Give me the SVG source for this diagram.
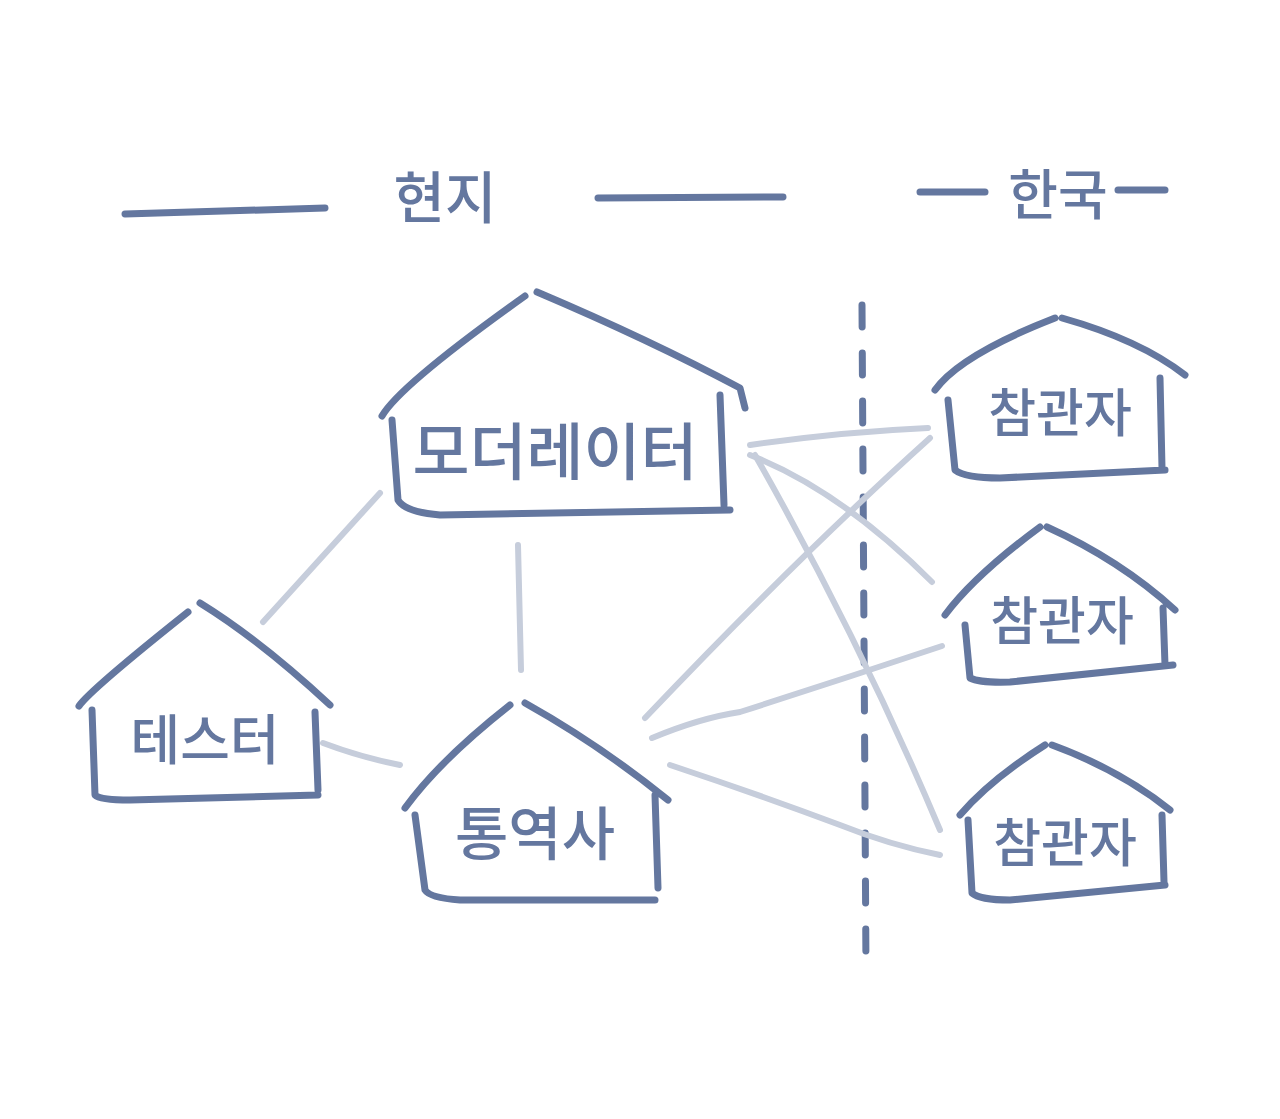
<svg xmlns="http://www.w3.org/2000/svg" width="1280" height="1119" viewBox="0 0 1280 1119">
<style>
.h{fill:none;stroke:#64779f;stroke-width:7;stroke-linecap:round;stroke-linejoin:round}
.c{fill:none;stroke:#c6cddb;stroke-width:6;stroke-linecap:round}
.t{fill:#64779f;font-family:"Noto Sans CJK KR",sans-serif;font-weight:500;text-anchor:middle}
</style>
<rect width="1280" height="1119" fill="#fff"/>
<g id="header">
<path class="h" d="M125 214 L325 208 M598 198 L783 197 M920 192 L985 192 M1118 190 L1165 190"/>
<text class="t" x="445" y="218" font-size="56">현지</text>
<text class="t" x="1058" y="215" font-size="54">한국</text>
</g>
<path class="h" d="M862 305 L866 970" stroke-dasharray="22 26" stroke-width="6"/>
<g id="connectors">
<path class="c" d="M380 493 L263 622"/>
<path class="c" d="M518 545 L521 670"/>
<path class="c" d="M323 743 Q360 757 400 765"/>
<path class="c" d="M645 718 Q800 555 930 438"/>
<path class="c" d="M652 738 Q700 718 740 712 Q840 680 942 646"/>
<path class="c" d="M670 765 Q760 795 840 825 Q890 845 940 855"/>
<path class="c" d="M750 445 Q840 432 928 428"/>
<path class="c" d="M750 455 Q840 490 932 582"/>
<path class="c" d="M755 455 Q860 640 940 830"/>
</g>
<g id="moderator">
<path class="h" d="M382 416 Q400 385 525 296 M537 292 Q650 340 740 388 L745 408 M392 420 L398 500 Q405 512 440 515 L730 510 M720 395 L724 505"/>
<text class="t" x="555" y="475" font-size="62">모더레이터</text>
</g>
<g id="tester">
<path class="h" d="M79 706 Q90 690 188 612 M200 603 Q260 640 330 705 M92 710 L95 795 Q100 800 130 800 L318 795 M315 712 L318 790"/>
<text class="t" x="205" y="760" font-size="54">테스터</text>
</g>
<g id="translator">
<path class="h" d="M405 808 Q440 760 510 705 M525 703 Q600 745 668 800 M415 815 L425 890 Q430 898 460 900 L655 900 M655 795 L658 888"/>
<text class="t" x="535" y="855" font-size="58">통역사</text>
</g>
<g id="observer1">
<path class="h" d="M935 390 Q960 355 1055 318 M1062 318 Q1140 340 1185 375 M948 400 L955 470 Q965 478 1000 478 L1165 470 M1160 378 L1162 468"/>
<text class="t" x="1060" y="432" font-size="52">참관자</text>
</g>
<g id="observer2">
<path class="h" d="M945 615 Q975 575 1040 527 M1047 527 Q1120 560 1175 610 M965 625 L970 678 Q980 683 1010 682 L1173 665 M1163 608 L1165 665"/>
<text class="t" x="1062" y="640" font-size="52">참관자</text>
</g>
<g id="observer3">
<path class="h" d="M960 815 Q990 780 1045 745 M1052 745 Q1120 770 1170 810 M968 820 L972 893 Q980 900 1010 900 L1165 885 M1162 815 L1164 882"/>
<text class="t" x="1065" y="862" font-size="52">참관자</text>
</g>
</svg>
